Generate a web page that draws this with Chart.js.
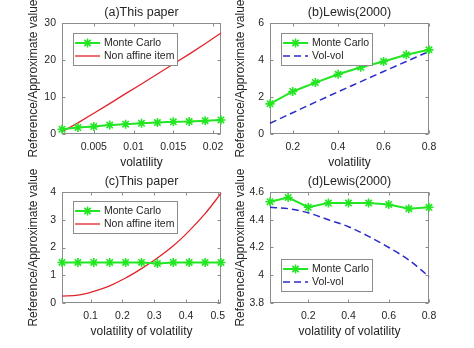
<!DOCTYPE html>
<html>
<head>
<meta charset="utf-8">
<script src="https://cdn.jsdelivr.net/npm/chart.js@4.4.1/dist/chart.umd.min.js"></script>
<style>
  html, body { margin: 0; padding: 0; background: #fff; }
  #wrap { position: relative; width: 474px; height: 348px; }
  #wrap canvas { position: absolute; left: 0; top: 0; }
</style>
</head>
<body>
<div id="wrap">
  <canvas id="pa" width="474" height="348"></canvas>
  <canvas id="pb" width="474" height="348"></canvas>
  <canvas id="pc" width="474" height="348"></canvas>
  <canvas id="pd" width="474" height="348"></canvas>
</div>
<script>
// (a) this paper, against volatility
const volA = [0.001, 0.003, 0.005, 0.007, 0.009, 0.011, 0.013, 0.015, 0.017, 0.019, 0.021];
const mcA = [1.3, 1.75, 2.0, 2.4, 2.65, 2.9, 3.1, 3.3, 3.35, 3.6, 3.8];
const nonAffineA = [0.6, 3.0, 5.6, 8.2, 10.9, 13.5, 16.2, 18.9, 21.6, 24.4, 27.3];
const xTicksA = [0.005, 0.01, 0.015, 0.02];
const yTicksA = [0, 10, 20, 30];

// (b) Lewis(2000), against volatility
const volB = [0.1, 0.2, 0.3, 0.4, 0.5, 0.6, 0.7, 0.8];
const mcB = [1.63, 2.3, 2.78, 3.23, 3.61, 3.92, 4.28, 4.55];
const volvolB = [0.58, 1.15, 1.72, 2.28, 2.83, 3.38, 3.92, 4.46];
const xTicksB = [0.2, 0.4, 0.6, 0.8];
const yTicksB = [0, 2, 4, 6];

// (c) this paper, against volatility of volatility
const vovC = [0.01, 0.06, 0.11, 0.16, 0.21, 0.26, 0.31, 0.36, 0.41, 0.46, 0.51];
const mcC = [1.46, 1.46, 1.46, 1.46, 1.46, 1.46, 1.42, 1.46, 1.46, 1.46, 1.46];
const nonAffineC = [0.25, 0.28, 0.42, 0.62, 0.9, 1.24, 1.62, 2.06, 2.6, 3.22, 3.95];
const xTicksC = [0.1, 0.2, 0.3, 0.4, 0.5];
const yTicksC = [0, 1, 2, 3, 4];

// (d) Lewis(2000), against volatility of volatility
const vovD = [0.01, 0.1, 0.2, 0.3, 0.4, 0.5, 0.6, 0.7, 0.8];
const mcD = [4.53, 4.56, 4.49, 4.52, 4.52, 4.52, 4.51, 4.48, 4.49];
const volvolD = [4.49, 4.48, 4.45, 4.4, 4.35, 4.28, 4.2, 4.11, 3.99];
const xTicksD = [0.2, 0.4, 0.6, 0.8];
const yTicksD = [3.8, 4, 4.2, 4.4, 4.6];

const FONT = '"Liberation Sans", Arial, sans-serif';
const INK = '#262626';
const FRAME = '#8c8c8c';
const GREEN = '#22e622';
const RED = '#e0242a';
const BLUE = '#2b2bcc';

// matlab-style axes: full box with short inward ticks on all sides
const axesBox = {
  id: 'axesBox',
  beforeDatasetsDraw(chart) {
    const { ctx, chartArea: a, scales: { x, y } } = chart;
    const l = Math.round(a.left) + 0.5, r = Math.round(a.right) - 0.5;
    const t = Math.round(a.top) + 0.5, b = Math.round(a.bottom) - 0.5;
    ctx.save();
    ctx.strokeStyle = FRAME;
    ctx.lineWidth = 1;
    ctx.strokeRect(l, t, r - l, b - t);
    ctx.beginPath();
    x.ticks.forEach(tk => {
      const px = Math.round(x.getPixelForValue(tk.value)) + 0.5;
      ctx.moveTo(px, b); ctx.lineTo(px, b - 3);
      ctx.moveTo(px, t); ctx.lineTo(px, t + 3);
    });
    y.ticks.forEach(tk => {
      const py = Math.round(y.getPixelForValue(tk.value)) + 0.5;
      ctx.moveTo(l, py); ctx.lineTo(l + 3, py);
      ctx.moveTo(r, py); ctx.lineTo(r - 3, py);
    });
    ctx.stroke();
    ctx.restore();
  }
};

// boxed legend sitting inside the plot
const boxLegend = {
  id: 'boxLegend',
  afterDatasetsDraw(chart, args, o) {
    const ctx = chart.ctx;
    const sets = chart.data.datasets;
    ctx.save();
    ctx.font = '10.5px ' + FONT;
    const tw = Math.max(...sets.map(d => ctx.measureText(d.label).width));
    const w = Math.round(31 + tw + 3), h = 32;
    ctx.fillStyle = '#fff';
    ctx.fillRect(o.x, o.y, w, h);
    ctx.strokeStyle = FRAME;
    ctx.lineWidth = 1;
    ctx.strokeRect(o.x + 0.5, o.y + 0.5, w, h);
    sets.forEach((d, i) => {
      const cy = o.y + 10 + i * 13;
      ctx.strokeStyle = d.borderColor;
      ctx.lineWidth = d.borderWidth;
      ctx.setLineDash(d.borderDash || []);
      ctx.beginPath();
      ctx.moveTo(o.x + 2, cy);
      ctx.lineTo(o.x + 27, cy);
      ctx.stroke();
      ctx.setLineDash([]);
      if (d.pointRadius > 0) {
        ctx.lineWidth = d.pointBorderWidth;
        ctx.fillStyle = d.borderColor;
        Chart.helpers.drawPoint(ctx, {
          pointStyle: d.pointStyle, radius: d.pointRadius,
          borderWidth: d.pointBorderWidth, rotation: 0
        }, o.x + 14.5, cy);
      }
      ctx.fillStyle = INK;
      ctx.textBaseline = 'middle';
      ctx.textAlign = 'left';
      ctx.fillText(d.label, o.x + 31, cy);
    });
    ctx.restore();
  }
};

function series(label, xs, ys, color, style) {
  return {
    label,
    data: xs.map((v, i) => ({ x: v, y: ys[i] })),
    borderColor: color,
    backgroundColor: color,
    borderWidth: style.width,
    borderDash: style.dash || [],
    pointStyle: 'star',
    pointRadius: style.marker ? 4.5 : 0,
    pointBorderWidth: 1.6,
    cubicInterpolationMode: style.smooth ? 'monotone' : 'default',
    clip: false
  };
}

function panel(id, p) {
  new Chart(document.getElementById(id), {
    type: 'line',
    data: { datasets: p.datasets },
    options: {
      responsive: false,
      animation: false,
      events: [],
      layout: { padding: p.pad },
      scales: {
        x: {
          type: 'linear',
          min: p.xRange[0], max: p.xRange[1],
          grid: { display: false, drawTicks: false },
          border: { display: false },
          afterBuildTicks: s => { s.ticks = p.xTicks.map(v => ({ value: v })); },
          afterFit: s => { s.height = 40; },
          ticks: {
            autoSkip: false, maxRotation: 0, padding: 7, color: INK,
            font: { family: FONT, size: 10.5 },
            callback: v => String(v)
          },
          title: {
            display: true, text: p.xLabel, color: INK,
            font: { family: FONT, size: 12 },
            padding: { top: 0, bottom: 4 }
          }
        },
        y: {
          min: p.yRange[0], max: p.yRange[1],
          grid: { display: false, drawTicks: false },
          border: { display: false },
          afterBuildTicks: s => { s.ticks = p.yTicks.map(v => ({ value: v })); },
          afterFit: s => { s.width = 62; },
          ticks: {
            padding: 6, color: INK,
            font: { family: FONT, size: 10.5 },
            callback: v => String(v)
          },
          title: {
            display: true, text: 'Reference/Approximate value', color: INK,
            font: { family: FONT, size: 12 },
            padding: { top: p.yTitleGap, bottom: 0 }
          }
        }
      },
      plugins: {
        legend: { display: false },
        tooltip: { enabled: false },
        title: {
          display: true, text: p.title, color: INK, fullSize: false,
          font: { family: FONT, size: 12.5, weight: 'normal' },
          padding: { top: 5.5, bottom: 2.5 }
        },
        boxLegend: p.legend
      }
    },
    plugins: [axesBox, boxLegend]
  });
}

panel('pa', {
  title: '(a)This paper', xLabel: 'volatility',
  xRange: [0.001, 0.021], yRange: [0, 30], xTicks: xTicksA, yTicks: yTicksA,
  pad: { left: 0, right: 253, top: 0, bottom: 174 }, yTitleGap: 26,
  legend: { x: 73, y: 33 },
  datasets: [
    series('Monte Carlo', volA, mcA, GREEN, { width: 2, marker: true }),
    series('Non affine item', volA, nonAffineA, RED, { width: 1.3 })
  ]
});

panel('pb', {
  title: '(b)Lewis(2000)', xLabel: 'volatility',
  xRange: [0.1, 0.8], yRange: [0, 6], xTicks: xTicksB, yTicks: yTicksB,
  pad: { left: 208, right: 45, top: 0, bottom: 174 }, yTitleGap: 25,
  legend: { x: 281, y: 33 },
  datasets: [
    series('Monte Carlo', volB, mcB, GREEN, { width: 2, marker: true }),
    series('Vol-vol', volB, volvolB, BLUE, { width: 1.5, dash: [7, 4], smooth: true })
  ]
});

panel('pc', {
  title: '(c)This paper', xLabel: 'volatility of volatility',
  xRange: [0.01, 0.51], yRange: [0, 4], xTicks: xTicksC, yTicks: yTicksC,
  pad: { left: 0, right: 253, top: 169, bottom: 5 }, yTitleGap: 26,
  legend: { x: 73, y: 201 },
  datasets: [
    series('Monte Carlo', vovC, mcC, GREEN, { width: 2, marker: true }),
    series('Non affine item', vovC, nonAffineC, RED, { width: 1.3, smooth: true })
  ]
});

panel('pd', {
  title: '(d)Lewis(2000)', xLabel: 'volatility of volatility',
  xRange: [0.01, 0.8], yRange: [3.8, 4.6], xTicks: xTicksD, yTicks: yTicksD,
  pad: { left: 208, right: 45, top: 169, bottom: 5 }, yTitleGap: 25,
  legend: { x: 281, y: 259 },
  datasets: [
    series('Monte Carlo', vovD, mcD, GREEN, { width: 2, marker: true }),
    series('Vol-vol', vovD, volvolD, BLUE, { width: 1.5, dash: [7, 4], smooth: true })
  ]
});
</script>
</body>
</html>
